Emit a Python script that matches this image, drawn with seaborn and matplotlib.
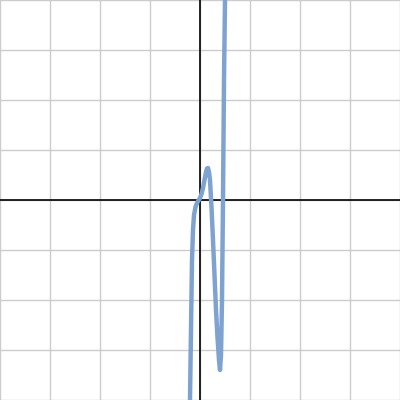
import matplotlib
matplotlib.use("Agg")
import matplotlib.pyplot as plt
import seaborn as sns
import pandas as pd

# curve points (graph units, 1 grid cell = 1)
xs = [-0.2, -0.18, -0.16, -0.14, -0.12, -0.09, -0.06, -0.03, 0.0, 0.03, 0.06, 0.09, 0.12, 0.14,
      0.16, 0.18, 0.2, 0.23, 0.26, 0.29, 0.32, 0.35, 0.38, 0.4, 0.42, 0.44, 0.46, 0.48, 0.5]
ys = [-4.0, -2.6, -1.2, -0.6, -0.3, -0.14, -0.06, -0.01, 0.04, 0.12, 0.24, 0.4, 0.56, 0.63,
      0.64, 0.56, 0.4, -0.15, -0.8, -1.5, -2.2, -2.75, -3.2, -3.4, -3.1, -2.0, 0.0, 2.4, 4.0]

df = pd.DataFrame({"x": xs, "y": ys})

sns.set_style("white")
fig = plt.figure(figsize=(4, 4), dpi=100)
ax = fig.add_axes([0, 0, 1, 1])

for v in range(-4, 5):
    ax.axvline(v, color="#cccccc", lw=1, zorder=0)
    ax.axhline(v, color="#cccccc", lw=1, zorder=0)
ax.axvline(0, color="black", lw=1.2, zorder=1)
ax.axhline(0, color="black", lw=1.2, zorder=1)

sns.lineplot(data=df, x="x", y="y", sort=False, color="#7fa3d1", lw=3.2, ax=ax, zorder=2)

ax.set_xlim(-4, 4)
ax.set_ylim(-4, 4)
ax.set_xticks([])
ax.set_yticks([])
ax.set_xlabel("")
ax.set_ylabel("")
for s in ax.spines.values():
    s.set_visible(False)

fig.savefig("out.png", dpi=100)
